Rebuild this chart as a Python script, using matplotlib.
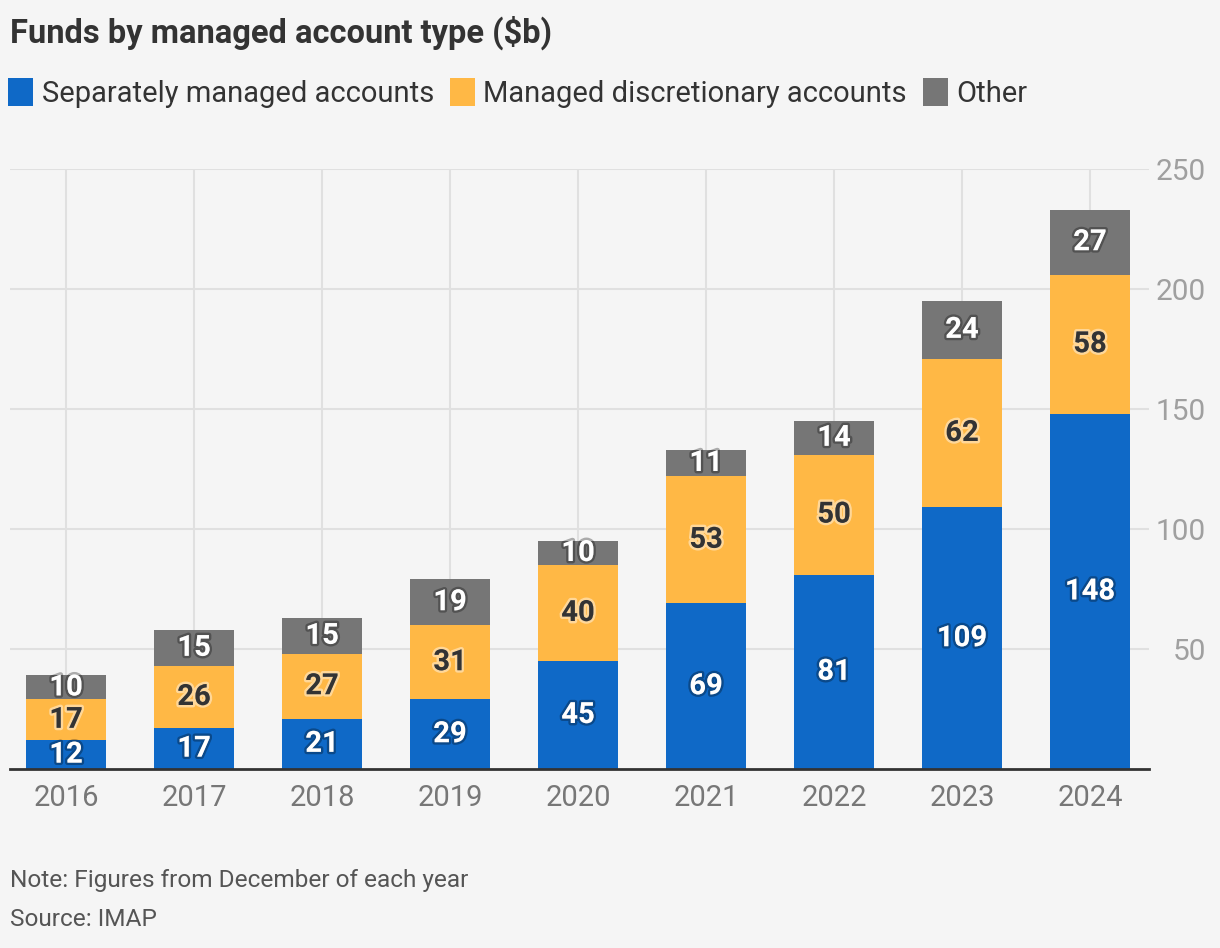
import matplotlib.pyplot as plt
import matplotlib.patheffects as pe
from matplotlib.patches import Patch
import numpy as np

# data
years = ['2016', '2017', '2018', '2019', '2020', '2021', '2022', '2023', '2024']
separately = [12, 17, 21, 29, 45, 69, 81, 109, 148]
discretionary = [17, 26, 27, 31, 40, 53, 50, 62, 58]
other = [10, 15, 15, 19, 10, 11, 14, 24, 27]
series_names = ['Separately managed accounts', 'Managed discretionary accounts', 'Other']
yticks = [50, 100, 150, 200, 250]

colors = ['#0f69c7', '#ffb845', '#767676']
text_colors = ['white', '#333333', 'white']
glow_colors = [(0, 0, 0, 0.3), (1, 1, 1, 0.45), (0, 0, 0, 0.3)]
bg = '#f5f5f5'

plt.rcParams['font.family'] = ['Roboto', 'DejaVu Sans']

fig = plt.figure(figsize=(12.2, 9.48), dpi=100, facecolor=bg)
W, H = 1220, 948
ax = fig.add_axes([10 / W, (H - 769) / H, (1149 - 10) / W, 600 / H])
ax.set_facecolor(bg)

x = np.arange(len(years))
bottom = np.zeros(len(years))
for vals, col, tc, gc in zip([separately, discretionary, other], colors, text_colors, glow_colors):
    vals = np.array(vals)
    ax.bar(x, vals, width=0.625, bottom=bottom, color=col, zorder=3)
    for xi, b, v in zip(x, bottom, vals):
        ax.text(xi, b + v / 2, str(v), ha='center', va='center', fontsize=21,
                fontweight='bold', color=tc, zorder=4,
                path_effects=[pe.withStroke(linewidth=3.5, foreground=gc)])
    bottom = bottom + vals

ax.set_xlim(-0.4375, 8.461)
ax.set_ylim(0, 250)

ax.set_xticks(x)
ax.set_xticklabels(years, fontsize=21, color='#777777')
ax.yaxis.tick_right()
ax.set_yticks(yticks)
ax.set_yticklabels([str(t) for t in yticks], fontsize=21.5, color='#a0a0a0', ha='right')
ax.tick_params(axis='y', length=0, pad=41)
ax.tick_params(axis='x', length=0, pad=11)

ax.grid(True, color='#e0e0e0', linewidth=1.5, zorder=0)
for s in ['top', 'right', 'left']:
    ax.spines[s].set_visible(False)
ax.spines['bottom'].set_color('#333333')
ax.spines['bottom'].set_linewidth(2)
ax.spines['bottom'].set_zorder(5)

fig.text(10 / W, 1 - 33 / H, 'Funds by managed account type ($b)', fontsize=23.5,
         fontweight='bold', color='#333333', va='center', ha='left')

handles = [Patch(facecolor=c, edgecolor='none') for c in colors]
fig.legend(handles, series_names, loc='center left', bbox_to_anchor=(8 / W, 1 - 93 / H),
           ncol=3, frameon=False, fontsize=21, handlelength=0.85, handleheight=1.1,
           handletextpad=0.3, columnspacing=0.55, borderaxespad=0.0, borderpad=0.0,
           labelcolor='#333333')

fig.text(10 / W, 1 - 880 / H, 'Note: Figures from December of each year', fontsize=17.6,
         color='#555555', va='center', ha='left')
fig.text(10 / W, 1 - 920 / H, 'Source: IMAP', fontsize=17.6,
         color='#555555', va='center', ha='left')

fig.savefig('out.png', dpi=100, facecolor=bg)
